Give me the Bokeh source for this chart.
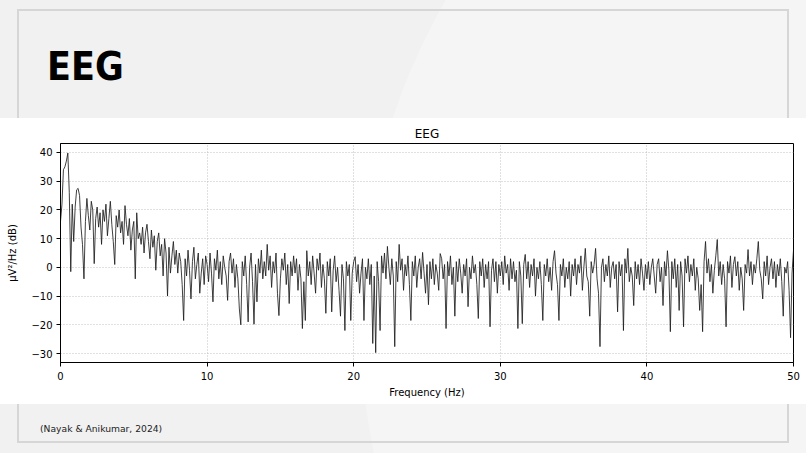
import numpy as np
from bokeh.plotting import figure
from bokeh.layouts import column
from bokeh.models import Range1d, FixedTicker, CustomJSTickFormatter, Div
from bokeh.embed import file_html
from bokeh.resources import INLINE

slide_title = "EEG"
chart_title = "EEG"
x_label = "Frequency (Hz)"
y_label = "µV²/Hz (dB)"
citation = "(Nayak & Anikumar, 2024)"
x_ticks = [0, 10, 20, 30, 40, 50]
y_ticks = [-30, -20, -10, 0, 10, 20, 30, 40]

# PSD in dB, one value per 0.1 Hz from 0 to 50 Hz
psd_db = [
    16, 22, 34, 35, 37, 39.8, 26, -1.5, 22, 9,
    21, 27, 27.5, 25, 14, 8, -4, 16, 24, 18,
    13, 23, 20, 1.3, 17, 21, 14, 19, 8, 20,
    16, 22, 11, 17, 23, 15, 9, 1, 18, 14,
    20, 12, 16, 8, 21.5, 15, 11, 17, 6, 13,
    16, -4, 19, 10, 12, 8, 14, 5, 12, 15,
    9, 3, 13, 7, 11, -1, 9, 12, 4, 8,
    -3, 10, 5, -10, 7, -2, 4, 9, 1, 6,
    -2, 5, 2, -6, -18.5, 3, -3, 6, -1, -11,
    2, 7, -4, 1, 5, -9, -2, 3, -6, 4,
    1, -5, 5, -2, -12, 3, -1, 6, -4, 2,
    -6, 4, 0, -3, -11.5, 2, 5, -2, 3, -7,
    1, -4, -14.5, -20, 2, -3, 4, -6, -19, 0,
    5, -5, -19.8, 1, -12, 3, -2, 6, -4, 2,
    -3, 8, -1, 4, -7, 2, -2, 5, -9, -16.8,
    -4, 3, -1, 5, -6, 1, -12.6, 2, -3, 4,
    -2, 3, -8, 1, -4, -21.3, -5, -18.5, 5.8, -3,
    2, -6, 4, -2, -9, 3, -1, 5, -7, 1,
    -4, -16, 2, -3, 3, -15.5, -1, 4, -5, 0,
    -8, -17, 1, -4, -22, 2, -3, 1, -18.5, -2,
    2, 3.7, -5, 1, -9, -2, 3, -18.5, 0, -4,
    3, -6, 1, -26.5, -3, -29.7, 2, -5, -22, 4,
    -2, 5, -4, 7.3, 0, -6, 3, -3, -27.6, 2,
    -5, 8, -1, 3, -8, 1, -3, 4, -6, -18.5,
    2, -3, 4, -7, 0, 3, -4, 5.2, -2, -9,
    1, -13, 2, -4, 3, -6, 1, -2, -8, 4.8,
    3, -4, 1, -21.3, 2, -3, 4, -6, 0, -17,
    2, -5, 3, -2, -9, 1, -3, 3, -13.7, 0,
    -4, 4, -2, 1, -6, -17.8, 2, -3, 3, -7,
    1, -4, 2, -20.7, -1, 3, -5, 2, -9, 1,
    -3, 2, -6, 4, -2, 1, -8, 3, -4, 2,
    -5, -1, -21.3, 2, -3, -19.6, 1, 4.5, -4, 2,
    -7, 1, -3, 3, -10, 0, -4, 2, -6, -18.5,
    1, -3, 3, -5, 0, -8, 2, 5.8, -2, -6,
    -18.5, 1, -3, 3, -7, 0, -4, 2, -10, 1,
    -3, 3, -6, 1, -2, 4, -8, 0, 6.6, -3,
    -5, -17, 2, -2, 1, 6.6, -4, -9, -27.6, 0,
    3, -5, 1, -3, 4, -7, 0, 2, -4, 1,
    -15.5, 2, -3, 1, -22, 3, -2, 6.6, -5, 0,
    -3, -13.3, 2, -4, 1, -6, 3, -2, -8, 1,
    -4, 2, -6, 0, 3, -3, -9, 1, 3, -5,
    0, -13.3, 2, -3, 5.8, -1, -22.4, 2, -4, 3,
    -7, 1, -15, 2, -3, -20.7, 3, -2, 4, -5,
    1, -3, 3, -8, 0, -4, -15, -6, -22.4, 2,
    9, -2, 3, -5, 1, -9, -1, 4, 9.7, -3,
    2, -6, 1, -4, -20.7, 2, -2, 4, -7, 1,
    3.7, -3, 2, -8, 0, -4, -15, 1, -2, 6.2,
    -3, 2, -6, 1, -2, 3, 9, -1, -4, -11,
    2, -3, 4, -6, 0, 3, -4, 2, -7, 1,
    -3, 3, -5, -17, 0, -2, 2, -8, -24.5, -2,
    6,
]
freq_min, freq_max = 0, 50
freqs = np.linspace(freq_min, freq_max, len(psd_db))

W = 806
BG = "#f1f1f1"
LIGHT = "#f5f5f5"
CARD = "#d6d6d6"

# ---------- top band of the slide ----------
top_html = (
    f'<div style="position:relative;width:{W}px;height:118px;overflow:hidden;background:{BG};">'
    f'<div style="position:absolute;left:360px;top:-320px;width:1280px;height:1280px;border-radius:50%;background:{LIGHT};"></div>'
    f'<div style="position:absolute;left:17px;top:9px;width:772px;height:140px;box-sizing:border-box;border:2px solid {CARD};"></div>'
    f'<div style="position:absolute;left:47px;top:47px;font-family:\'DejaVu Sans Condensed\',\'DejaVu Sans\';font-weight:bold;font-size:39px;line-height:39px;color:#000;white-space:nowrap;">{slide_title}</div>'
    '</div>'
)
top = Div(text=top_html, width=W, height=118, margin=0)

# ---------- chart ----------
p = figure(width=W, height=286, x_range=Range1d(0, 50), y_range=Range1d(-33.13, 43.13),
           output_backend="svg", toolbar_location=None, title=chart_title,
           min_border_left=60, min_border_right=13, min_border_top=25, min_border_bottom=42)
p.background_fill_color = "white"
p.border_fill_color = "white"
p.outline_line_color = "black"
p.outline_line_width = 1
p.title.align = "center"
p.title.text_font = "DejaVu Sans"
p.title.text_font_size = "12px"
p.title.text_font_style = "normal"
p.title.text_color = "black"
p.title.standoff = 6

p.line(freqs, psd_db, line_color="#1e1e1e", line_width=0.85)

p.xaxis.ticker = FixedTicker(ticks=x_ticks)
p.yaxis.ticker = FixedTicker(ticks=y_ticks)
p.yaxis.formatter = CustomJSTickFormatter(code="return (tick < 0 ? '\u2212' : '') + Math.abs(tick).toFixed(0);")
p.xaxis.axis_label = x_label
p.yaxis.axis_label = y_label
for ax in (p.xaxis[0], p.yaxis[0]):
    ax.major_tick_in = 0
    ax.major_tick_out = 4
    ax.minor_tick_line_color = None
    ax.major_tick_line_color = "black"
    ax.axis_line_color = "black"
    ax.major_label_text_font = "DejaVu Sans"
    ax.major_label_text_font_size = "10px"
    ax.major_label_text_color = "black"
    ax.axis_label_text_font = "DejaVu Sans"
    ax.axis_label_text_font_size = "10px"
    ax.axis_label_text_font_style = "normal"
    ax.axis_label_text_color = "black"
p.xaxis.major_label_standoff = 5
p.xaxis.axis_label_standoff = 4
p.yaxis.major_label_standoff = 4
p.yaxis.axis_label_standoff = 10
p.grid.grid_line_color = "#b0b0b0"
p.grid.grid_line_dash = "1 2"
p.grid.grid_line_width = 0.8

# ---------- bottom band ----------
bot_html = (
    f'<div style="position:relative;width:{W}px;height:49px;overflow:hidden;background:{BG};">'
    f'<div style="position:absolute;left:360px;top:-724px;width:1280px;height:1280px;border-radius:50%;background:{LIGHT};"></div>'
    f'<div style="position:absolute;left:17px;top:-20px;width:772px;height:59px;box-sizing:border-box;border:2px solid {CARD};"></div>'
    f'<div style="position:absolute;left:40px;top:19px;font-family:\'DejaVu Sans\';font-size:9.2px;line-height:12px;color:#222;white-space:nowrap;">{citation}</div>'
    '</div>'
)
bot = Div(text=bot_html, width=W, height=49, margin=0)

layout = column(top, p, bot, spacing=0)
open("out.html", "w").write(file_html(layout, INLINE))
